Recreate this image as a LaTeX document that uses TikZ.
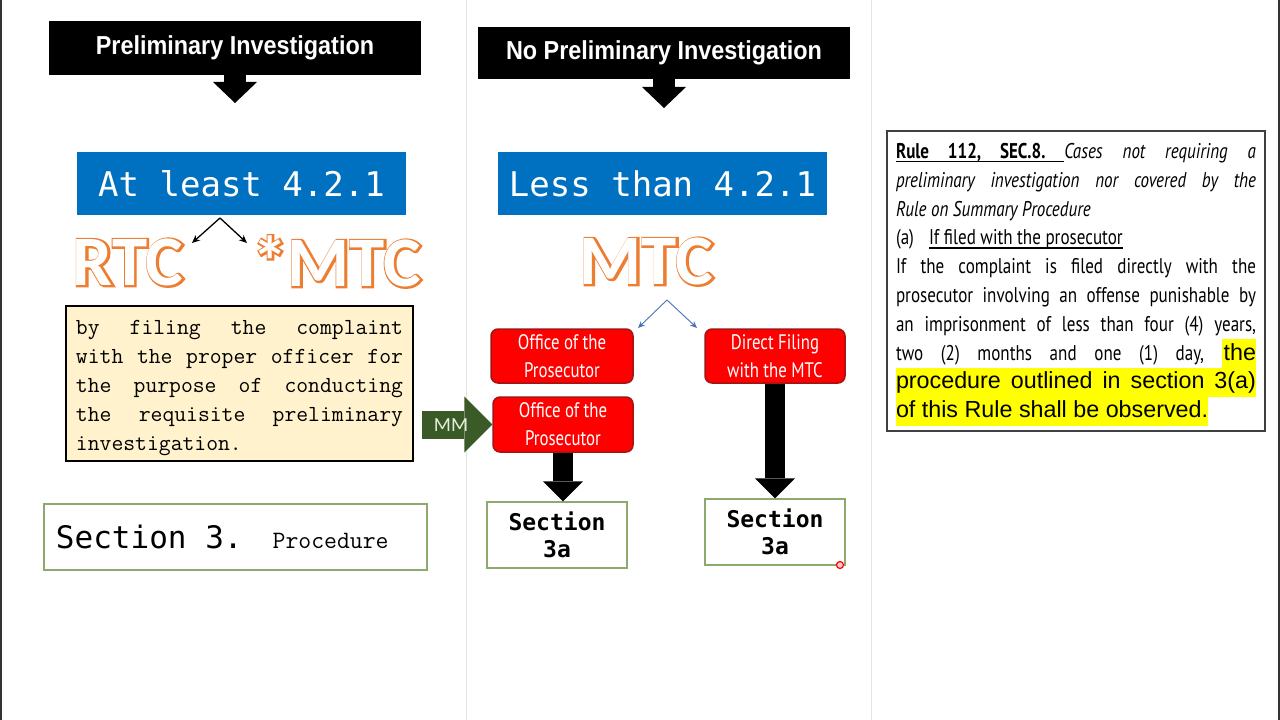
\documentclass[tikz,border=0pt]{standalone}
\usepackage{fontspec}
\usetikzlibrary{arrows.meta,calc}
\setmainfont{Liberation Serif}
\newfontfamily\hdrfont{Liberation Sans}[FakeStretch=0.9]
\newfontfamily\consfont{DejaVu Sans Mono}
\newfontfamily\calfont{Carlito}
\newfontfamily\caloutfont{Carlito}[FakeBold=5]
\newfontfamily\agfont{PT Sans}[FakeStretch=0.8]
\newfontfamily\arialfont{Liberation Sans}
\definecolor{bluebox}{HTML}{0070C0}
\definecolor{orangeC}{HTML}{ED7D31}
\definecolor{beige}{HTML}{FFF2CC}
\definecolor{mmgreen}{HTML}{3A5A27}
\definecolor{mmtext}{HTML}{E2F0D9}
\definecolor{redbox}{HTML}{FF0000}
\definecolor{redborder}{HTML}{A31515}
\definecolor{secgreen}{HTML}{8DAA6E}
\definecolor{arrowblue}{HTML}{4A72B8}
\definecolor{divider}{HTML}{E3E3E3}
\definecolor{hl}{HTML}{FFFF00}
\setlength{\fboxsep}{0pt}
\newcommand\hstrut{\rule[-8bp]{0pt}{28.6bp}}
\newcommand\ulw[1]{\leavevmode\setbox0\hbox{#1}\rlap{\rule[-4bp]{\wd0}{1.4bp}}\box0}
\newcommand\ulsp{\leaders\hrule height -2.6bp depth 4bp\hskip\fontdimen2\font plus\fontdimen3\font minus\fontdimen4\font}
\newcommand\hlfont{\arialfont\fontsize{23.3bp}{28.8bp}\selectfont}
\newcommand\outl[3]{%
  \node[otext, font=\caloutfont\bfseries\fontsize{71bp}{80bp}\selectfont, anchor=base] at ($#2+(0.7,0.7)$) {#3};
  \node[otext, text=white, anchor=base] (#1) at #2 {#3};}
\begin{document}
\begin{tikzpicture}[x=1bp,y=-1bp,
  hdr/.style={fill=black, text=white, minimum width=372bp, minimum height=54bp, inner sep=0,
    font=\hdrfont\bfseries\fontsize{26bp}{30bp}\selectfont},
  bigarrow/.style n args={3}{line width=#1bp, -{Triangle[width=#2bp,length=#3bp,line width=0pt]}},
  bluebx/.style={fill=bluebox, text=white, minimum width=329bp, minimum height=63bp, inner sep=0,
    font=\consfont\fontsize{34bp}{40bp}\selectfont},
  otext/.style={font=\calfont\bfseries\fontsize{71bp}{80bp}\selectfont, text=orangeC, inner sep=0},
  thinblack/.style={line width=1.3bp, -{Stealth[length=8bp,width=7bp]}},
  thinblue/.style={line width=0.9bp, arrowblue, -{Stealth[length=7bp,width=6bp]}},
  redbx/.style={fill=redbox, draw=redborder, line width=1.5bp, rounded corners=7bp,
    minimum width=140bp, minimum height=54bp, inner sep=0, text=white, align=center,
    font=\agfont\fontsize{21bp}{28bp}\selectfont},
  secbx/.style={draw=secgreen, line width=1.3bp, fill=white, minimum width=140bp,
    minimum height=66bp, inner sep=0, align=center,
    font=\consfont\bfseries\fontsize{23bp}{27bp}\selectfont}]
\useasboundingbox (0,0) rectangle (1280,720);
\fill[white] (0,0) rectangle (1280,720);
% dividers and edges
\draw[divider, line width=1bp] (466,0) -- (466,720);
\draw[divider, line width=1bp] (871,0) -- (871,720);
\draw[black!80, line width=2bp] (1,0) -- (1,720);
\draw[black!80, line width=2bp] (1279,0) -- (1279,720);
% headers
\node[hdr] (h1) at (235,48) {Preliminary Investigation};
\node[hdr, minimum height=52bp] (h2) at (664,53) {No Preliminary Investigation};
\coordinate (h1tip) at (235,103);
\coordinate (h2tip) at (664,108);
\draw[bigarrow={22}{44}{21}] (h1.south) -- (h1tip);
\draw[bigarrow={22}{44}{21}] (h2.south) -- (h2tip);
% blue boxes
\node[bluebx] (b1) at (241.5,183.5) {At least 4.2.1};
\node[bluebx] (b2) at (662.5,183.5) {Less than 4.2.1};
% outline texts
\outl{rtc}{(128,285)}{RTC}
\outl{mtcl}{(336.5,286)}{*MTC}
\outl{mtc}{(646.5,284)}{MTC}
% thin arrows
\coordinate (ap1) at (220,218);
\coordinate (t1l) at (192,243);
\coordinate (t1r) at (247,243);
\draw[thinblack] (ap1) -- (t1l);
\draw[thinblack] (ap1) -- (t1r);
\coordinate (ap2) at (667,300);
\coordinate (t2l) at (638,328);
\coordinate (t2r) at (697,328);
\draw[thinblue] (ap2) -- (t2l);
\draw[thinblue] (ap2) -- (t2r);
% beige box
\node[draw=black, line width=1.5bp, fill=beige, text width=327bp, inner xsep=10bp, inner ysep=0,
  minimum height=155bp, align=left, font=\ttfamily\fontsize{23bp}{29bp}\selectfont] (beige) at (239.5,383.5)
{\makebox[327bp][s]{\rule{0pt}{24bp}by\hfill filing\hfill the\hfill complaint}\\
\makebox[327bp][s]{with\hfill the\hfill proper\hfill officer\hfill for}\\
\makebox[327bp][s]{the\hfill purpose\hfill of\hfill conducting}\\
\makebox[327bp][s]{the\hfill requisite\hfill preliminary}\\
investigation.};
% red boxes
\node[redbx, minimum width=142bp] (r1) at (562,356) {Office of the\\Prosecutor};
\node[redbx] (r2) at (775,356) {Direct Filing\\with the MTC};
\node[redbx, minimum height=55bp] (r3) at (563,424.5) {Office of the\\Prosecutor};
% MM arrow
\coordinate (mmtail) at (422,424.5);
\draw[line width=28bp, mmgreen, -{Triangle[width=56bp,length=28bp,line width=0pt]}] (mmtail) -- (mmtail -| r3.west);
\node[font=\calfont\fontsize{20bp}{22bp}\selectfont, text=mmtext, inner sep=0] (mm) at (451,425.5) {MM};
% section boxes
\node[secbx] (s1) at (557,535) {Section\\3a};
\node[secbx] (s2) at (775,532) {Section\\3a};
\draw[bigarrow={20}{40}{20}] (r3.south) -- (r3.south |- s1.north);
\draw[bigarrow={20}{40}{20}] (r2.south) -- (r2.south |- s2.north);
\node[secbx, minimum width=383bp, text width=359bp, inner xsep=12bp, align=left, font=\normalfont] (s3) at (235.5,537)
{\spaceskip=0pt\xspaceskip=0pt{\consfont\fontsize{31bp}{36bp}\selectfont Section 3.}\hspace{30bp}{\ttfamily\fontsize{25bp}{30bp}\selectfont Procedure}};
% pointer dot
\node[circle, draw=red, line width=1.2bp, fill=red!20, minimum size=7bp, inner sep=0] (dot) at (840,565) {};
% rule box
\node[draw=black!75, line width=2bp, text width=360bp, inner xsep=9bp, inner ysep=0, minimum height=300bp,
  align=left, anchor=north west, font=\agfont\fontsize{21.3bp}{28.8bp}\selectfont] (rule) at (886,130)
{\spaceskip=0pt\xspaceskip=0pt\frenchspacing
\makebox[360bp][s]{\rule{0pt}{22bp}{\bfseries\ulw{Rule}\ulsp\ulw{112,}\ulsp\ulw{SEC.8.}\ulsp}\itshape Cases not requiring a}\\
\makebox[360bp][s]{\itshape preliminary investigation nor covered by the}\\
{\itshape Rule on Summary Procedure}\\
(a)\hspace{15bp}\ulw{If filed with the prosecutor}\\
\makebox[360bp][s]{If the complaint is filed directly with the}\\
\makebox[360bp][s]{prosecutor involving an offense punishable by}\\
\makebox[360bp][s]{an imprisonment of less than four (4) years,}\\
\makebox[360bp][s]{two (2) months and one (1) day, \colorbox{hl}{\hstrut\hspace{2bp}\hlfont the}}\\
\colorbox{hl}{\makebox[360bp][s]{\hstrut\hlfont procedure outlined in section 3(a)}}\\
\colorbox{hl}{\hstrut\hlfont of this Rule shall be observed.}};
\end{tikzpicture}
\end{document}
